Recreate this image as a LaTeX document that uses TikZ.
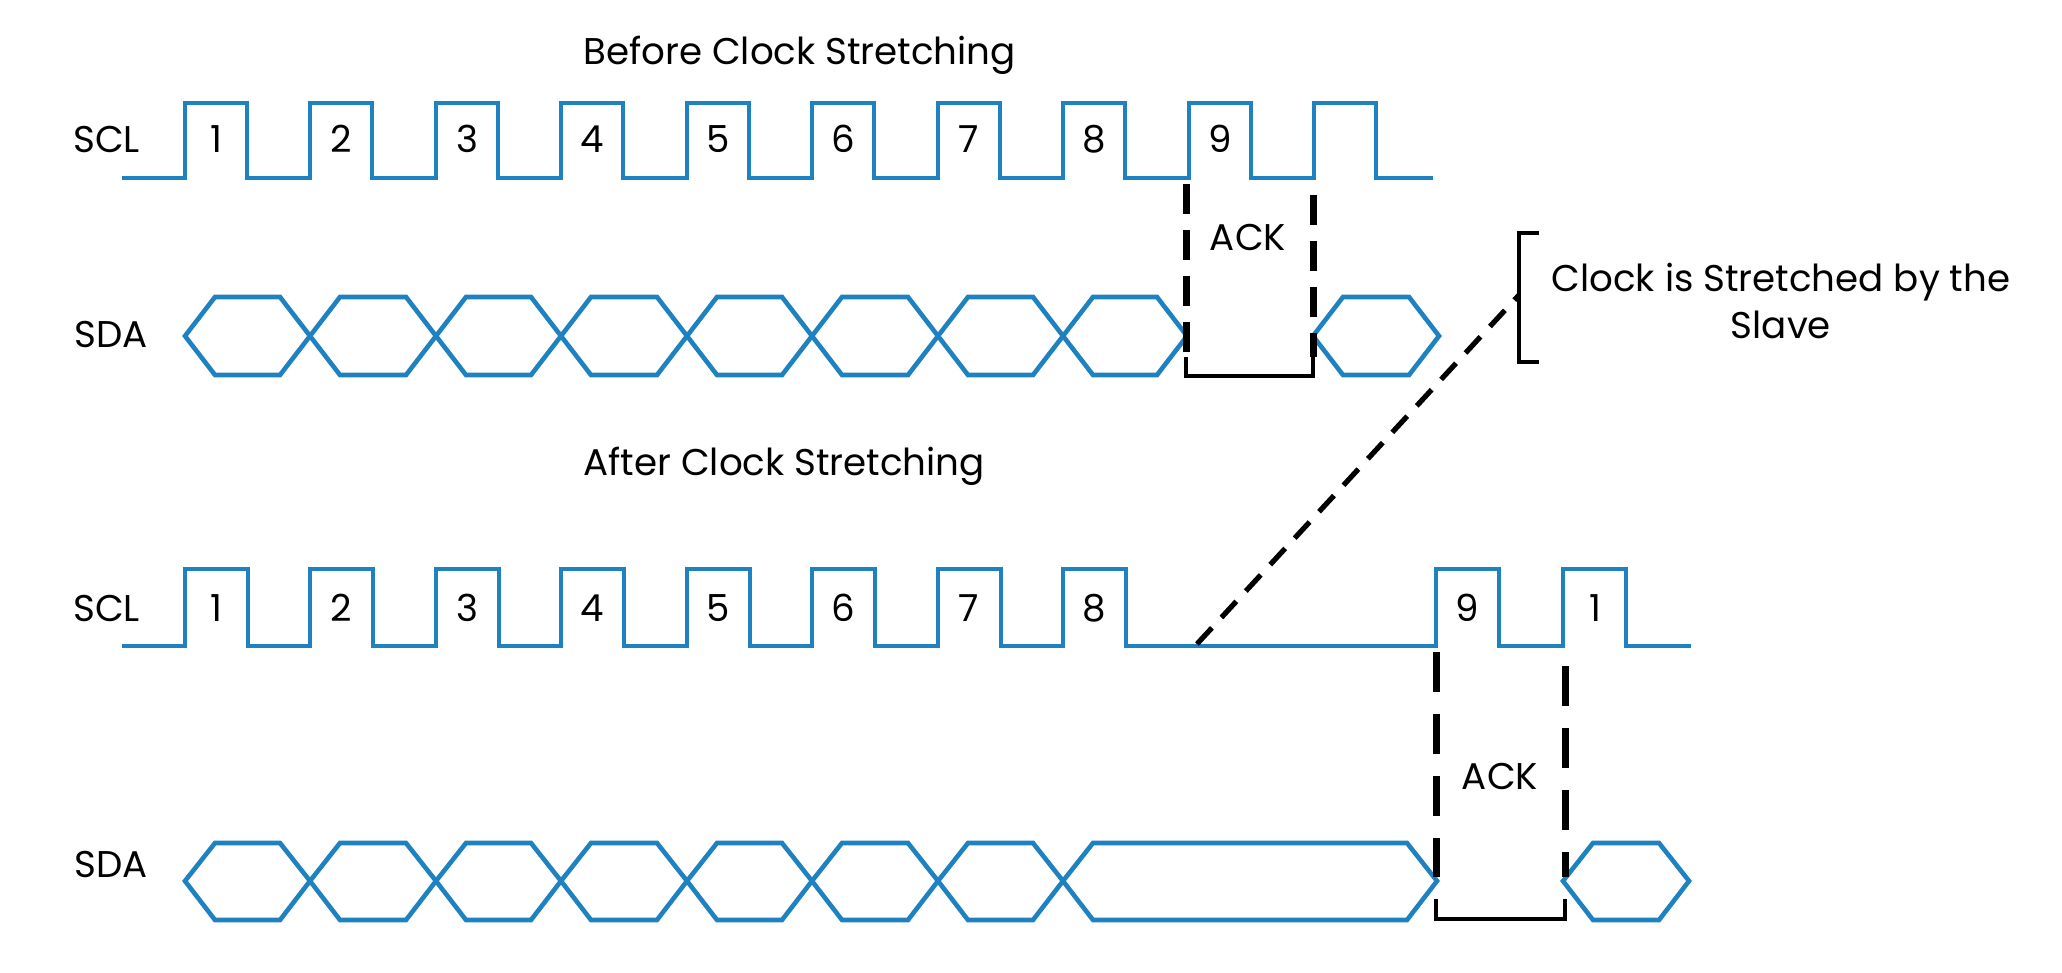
\documentclass[tikz,border=0pt]{standalone}
\usepackage{fontspec}
\setmainfont{Poppins}
\usepackage{xcolor}
\definecolor{wave}{RGB}{30,130,192}

\begin{document}
\begin{tikzpicture}[x=0.5pt,y=-0.5pt,
  sig/.style={draw=wave,line width=2.3pt},
  lbl/.style={font=\fontsize{18.6}{22}\selectfont,inner sep=0pt,anchor=base},
  ackline/.style={line width=3.5pt,dash pattern=on 15pt off 8pt},
  ackline2/.style={line width=3.5pt,dash pattern=on 20pt off 11pt},
  ackbox/.style={line width=2pt},
  diag/.style={line width=2.6pt,dash pattern=on 11pt off 7pt}]
\useasboundingbox (0,0) rectangle (2062,973);
% titles
\node[lbl,anchor=base west] (before) at (583,65) {Before Clock Stretching};
\node[lbl,anchor=base west] (after) at (583,475) {After Clock Stretching};
\node[lbl,anchor=base west] (sclA) at (73,153) {SCL};
\node[lbl,anchor=base west] (sdaA) at (74,348) {SDA};
\node[lbl,anchor=base west] (sclB) at (73,621) {SCL};
\node[lbl,anchor=base west] (sdaB) at (74,877) {SDA};
% before: SCL
\draw[sig] (122,178) \foreach \r in {185,310,436,561,687,812,938,1063,1189,1314}
  {-- (\r,178) -- (\r,103) -- (\r+62,103) -- (\r+62,178)} -- (1433,178);
\foreach \r [count=\i] in {185,310,436,561,687,812,938,1063,1189}
  \node[lbl] (bitA\i) at (\r+31,153) {\i};
% before: SDA
\foreach \a/\b in {185/310,310/436,436/561,561/687,687/812,812/938,938/1063,1063/1187,1313/1439}
  \draw[sig] (\a,336)--(\a+30,297)--(\b-30,297)--(\b,336)--(\b-30,375)--(\a+30,375)--cycle;
% before: ACK
\draw[ackline] (1186,184) -- (1186,357);
\draw[ackline] (1313,195) -- (1313,357);
\draw[ackbox] (1186,357) -- (1186,376) -- (1313,376) -- (1313,357);
\node[lbl] (ackA) at (1248,251) {ACK};
% after: SCL
\draw[sig] (122,646) \foreach \r in {185,310,436,561,687,812,938,1063,1436,1563}
  {-- (\r,646) -- (\r,569) -- (\r+63,569) -- (\r+63,646)} -- (1691,646);
\foreach \r [count=\i] in {185,310,436,561,687,812,938,1063}
  \node[lbl] (bitB\i) at (\r+31,621) {\i};
\node[lbl] (bitB9) at (1467,621) {9};
\node[lbl] (bitB10) at (1595,621) {1};
% after: SDA
\foreach \a/\b in {185/310,310/436,436/561,561/687,687/812,812/938,938/1063,1063/1437,1563/1689}
  \draw[sig] (\a,881)--(\a+30,843)--(\b-30,843)--(\b,881)--(\b-30,920)--(\a+30,920)--cycle;
% after: ACK
\draw[ackline2] (1436,652) -- (1436,877);
\draw[ackline2] (1565,666) -- (1565,877);
\draw[ackbox] (1436,899) -- (1436,919) -- (1565,919) -- (1565,899);
\node[lbl] (ackB) at (1500,789) {ACK};
% stretch note
\draw[ackbox] (1539,233) -- (1519,233) -- (1519,362) -- (1539,362);
\coordinate (brace) at (1519,295);
\coordinate (hold) at (1197,644);
\draw[diag] (hold) -- (brace);
\node[lbl] (note1) at (1781,292) {Clock is Stretched by the};
\node[lbl] (note2) at (1781,338) {Slave};
\end{tikzpicture}
\end{document}
